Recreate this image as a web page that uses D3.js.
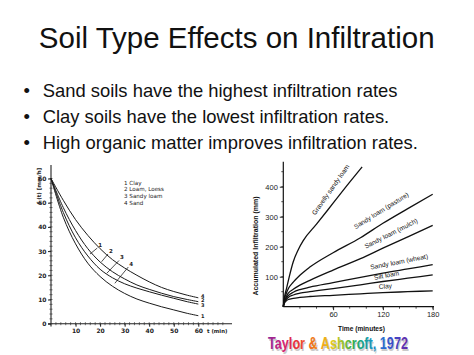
<!DOCTYPE html>
<html><head><meta charset="utf-8">
<script src="https://cdn.jsdelivr.net/npm/d3@7"></script>
<style>html,body{margin:0;padding:0;background:#fff;}svg{display:block;}</style>
</head><body>
<svg id="c" width="474" height="355"></svg>
<script>
// ---- Slide text ----
const titleText = "Soil Type Effects on Infiltration";
const bullets = [
  "Sand soils have the highest infiltration rates",
  "Clay soils have the lowest infiltration rates.",
  "High organic matter improves infiltration rates."
];
const citation = "Taylor & Ashcroft, 1972";

// ---- Left chart: infiltration rate f(t) [mm/h] vs t (min) ----
const rateTime = [0,5,10,15,20,25,30,35,40,45,50,55,60];
const rateClay      = [60,44,33,25,19.5,15.5,12.5,10.2,8.5,7,5.7,4.4,3.3];
const rateLoam      = [60,48,38.5,31,25.5,21.5,18.5,16,14.2,12.6,11.2,10.1,9.1];
const rateSandyLoam = [60,46,35.5,28,22.5,19,16.5,14.7,13.2,11.8,10.5,9.2,8.1];
const rateSand      = [60,51,43,36.5,31,26.5,23,20,17.3,15,13.3,11.9,10.7];
const rateLegend = ["1 Clay","2 Loam, Loess","3 Sandy loam","4 Sand"];
const rateXTicks = [10,20,30,40,50,60];
const rateYTicks = [0,10,20,30,40,50,60];

// ---- Right chart: accumulated infiltration (mm) vs time (minutes) ----
const gravelTime = [0,1,2,4,7,12,18,24,40,60,80,95];
const gravellySandyLoam = [0,25,40,62,98,150,190,220,275,345,415,466];
const accTime = [0,1,3,6,12,20,32,60,93,120,150,180];
const sandyLoamPasture = [0,20,40,60,82,105,132,180,230,278,327,375];
const sandyLoamMulch   = [0,15,30,45,58,72,88,122,160,195,233,271];
const sandyLoamWheat   = [0,14,26,37,48,57,65,80,98,112,126,140];
const siltLoam         = [0,12,22,31,39,45,50,60,73,84,95,106];
const clayAcc          = [0,10,18,24,28,31,34,38,43,47,50,53];
const accXTicks = [60,120,180];
const accYTicks = [100,200,300,400];

const svg = d3.select("#c");
const FONT = "'Liberation Sans', Arial, sans-serif";

// Title
svg.append("text").attr("x",236.7).attr("y",48).attr("text-anchor","middle")
  .attr("font-family",FONT).attr("font-size",29.5).attr("fill","#111").text(titleText);
// Bullets
bullets.forEach((b,i)=>{
  const y = 96.5 + i*26;
  svg.append("text").attr("x",23.5).attr("y",y).attr("font-family",FONT)
    .attr("font-size",18.4).attr("fill","#111").text("•");
  svg.append("text").attr("x",42.7).attr("y",y).attr("font-family",FONT)
    .attr("font-size",18.4).attr("fill","#111").text(b);
});

// ===== Left chart =====
const xL = d3.scaleLinear().domain([0,60]).range([51,198.3]);
const yL = d3.scaleLinear().domain([0,60]).range([323.7,178.5]);
const gL = svg.append("g").attr("font-family","'DejaVu Sans', sans-serif").attr("fill","#222");
gL.append("line").attr("x1",xL(0)).attr("x2",xL(0)).attr("y1",165).attr("y2",326.5).attr("stroke","#222").attr("stroke-width",1.1);
gL.append("line").attr("x1",48).attr("x2",232).attr("y1",yL(0)).attr("y2",yL(0)).attr("stroke","#222").attr("stroke-width",1.1);
d3.range(0,61,2).forEach(v=>{
  gL.append("line").attr("x1",xL(0)-1.5).attr("x2",xL(0)+1.5).attr("y1",yL(v)).attr("y2",yL(v)).attr("stroke","#333").attr("stroke-width",0.7);
});
d3.range(2,71,2).forEach(v=>{
  gL.append("line").attr("x1",xL(v)).attr("x2",xL(v)).attr("y1",yL(0)-1.5).attr("y2",yL(0)+1.5).attr("stroke","#333").attr("stroke-width",0.7);
});
const yAxisL = d3.axisLeft(yL).tickValues(rateYTicks).tickSize(3).tickPadding(1.5);
const yAxG = gL.append("g").attr("transform",`translate(${xL(0)},0)`).call(yAxisL);
yAxG.select(".domain").remove();
yAxG.selectAll("text").attr("font-size",6).attr("font-weight","bold").attr("fill","#222").attr("font-family","'DejaVu Sans', sans-serif");
yAxG.selectAll("line").attr("stroke","#222");
const xAxisL = d3.axisBottom(xL).tickValues(rateXTicks).tickSize(3).tickPadding(2);
const xAxG = gL.append("g").attr("transform",`translate(0,${yL(0)})`).call(xAxisL);
xAxG.select(".domain").remove();
xAxG.selectAll("text").attr("font-size",6).attr("font-weight","bold").attr("fill","#222").attr("font-family","'DejaVu Sans', sans-serif");
xAxG.selectAll("line").attr("stroke","#222");
gL.append("text").attr("x",207).attr("y",333).attr("font-size",5.3).attr("font-weight","bold").text("t (min)");
gL.append("text").attr("transform","translate(41,186) rotate(-90)").attr("text-anchor","middle")
  .attr("font-size",5.5).attr("font-weight","bold").text("f (t)  [mm/h]");
const rateSeries = [rateClay, rateLoam, rateSandyLoam, rateSand];
const lineL = d3.line().x((d,i)=>xL(rateTime[i])).y(d=>yL(d)).curve(d3.curveCatmullRom);
rateSeries.forEach(s=>{
  gL.append("path").attr("d",lineL(s)).attr("fill","none").attr("stroke","#1a1a1a").attr("stroke-width",1);
});
rateLegend.forEach((t,i)=>{
  gL.append("text").attr("x",124).attr("y",184.5+i*6.8).attr("font-size",5.6).text(t);
});
const endLabels = ["4","2","3","1"];
const endY = [297.5,302.3,307,318];
endLabels.forEach((e,i)=>{
  gL.append("text").attr("x",201).attr("y",endY[i]).attr("font-size",5).attr("font-weight","bold").text(e);
});
const leaderLabels = ["1","2","3","4"];
const leaderPos = [[98.3,246.5],[109,252.5],[120,259],[129.3,265.5]];
const leaderEnds = [[15.9,28.8],[20.6,25.6],[22.7,20.8],[26,16.7]];
leaderLabels.forEach((lab,i)=>{
  const [lx,ly] = leaderPos[i];
  gL.append("text").attr("x",lx).attr("y",ly).attr("font-size",5.5).attr("font-weight","bold").text(lab);
  gL.append("line").attr("x1",lx-1).attr("y1",ly+1.5)
    .attr("x2",xL(leaderEnds[i][0])).attr("y2",yL(leaderEnds[i][1]))
    .attr("stroke","#222").attr("stroke-width",0.8);
});

// ===== Right chart =====
const xR = d3.scaleLinear().domain([0,180]).range([283.3,432.7]);
const yR = d3.scaleLinear().domain([0,400]).range([306.7,186.7]);
const gR = svg.append("g").attr("font-family",FONT).attr("fill","#111");
gR.append("line").attr("x1",xR(0)).attr("x2",xR(0)).attr("y1",161.7).attr("y2",yR(0)).attr("stroke","#111").attr("stroke-width",1.2);
gR.append("line").attr("x1",xR(0)).attr("x2",434).attr("y1",yR(0)).attr("y2",yR(0)).attr("stroke","#111").attr("stroke-width",1.2);
d3.range(50,451,50).forEach(v=>{
  gR.append("line").attr("x1",xR(0)-2).attr("x2",xR(0)).attr("y1",yR(v)).attr("y2",yR(v)).attr("stroke","#222").attr("stroke-width",0.8);
});
d3.range(20,181,20).forEach(v=>{
  gR.append("line").attr("x1",xR(v)).attr("x2",xR(v)).attr("y1",yR(0)).attr("y2",yR(0)+2).attr("stroke","#222").attr("stroke-width",0.8);
});
const yAxR = gR.append("g").attr("transform",`translate(${xR(0)},0)`)
  .call(d3.axisLeft(yR).tickValues(accYTicks).tickSize(3.5).tickPadding(2));
yAxR.select(".domain").remove();
yAxR.selectAll("text").attr("font-size",7.5).attr("fill","#222").attr("font-family",FONT);
yAxR.selectAll("line").attr("stroke","#222");
const xAxR = gR.append("g").attr("transform",`translate(0,${yR(0)})`)
  .call(d3.axisBottom(xR).tickValues(accXTicks).tickSize(3.5).tickPadding(1.5));
xAxR.select(".domain").remove();
xAxR.selectAll("text").attr("font-size",7.5).attr("fill","#222").attr("font-family",FONT);
xAxR.selectAll("line").attr("stroke","#222");
gR.append("text").attr("x",361.5).attr("y",330.5).attr("text-anchor","middle")
  .attr("font-size",6.6).attr("font-weight","bold").text("Time (minutes)");
gR.append("text").attr("transform","translate(257.5,246) rotate(-90)").attr("text-anchor","middle")
  .attr("font-size",7).attr("font-weight","bold").text("Accumulated Infiltration (mm)");

const accSeries = [
  {t:gravelTime, v:gravellySandyLoam, name:"Gravelly sandy loam", cx:332.5, cy:191, a:-55},
  {t:accTime, v:sandyLoamPasture, name:"Sandy loam (pasture)", cx:382.5, cy:212.5, a:-32},
  {t:accTime, v:sandyLoamMulch, name:"Sandy loam (mulch)", cx:392, cy:235.5, a:-27},
  {t:accTime, v:sandyLoamWheat, name:"Sandy loam (wheat)", cx:399.5, cy:264, a:-11},
  {t:accTime, v:siltLoam, name:"Silt loam", cx:387, cy:277.5, a:-11},
  {t:accTime, v:clayAcc, name:"Clay", cx:385.5, cy:288.5, a:-5}
];
accSeries.forEach(s=>{
  const ln = d3.line().x((d,i)=>xR(s.t[i])).y(d=>yR(d)).curve(d3.curveMonotoneX);
  gR.append("path").attr("d",ln(s.v)).attr("fill","none").attr("stroke","#111").attr("stroke-width",1.3);
  gR.append("text").attr("transform",`translate(${s.cx},${s.cy}) rotate(${s.a})`)
    .attr("text-anchor","middle").attr("font-size",6.6).attr("fill","#111").text(s.name);
});

// Citation with rainbow gradient and grey shadow
const defs = svg.append("defs");
const grad = defs.append("linearGradient").attr("id","rb").attr("gradientUnits","userSpaceOnUse")
  .attr("x1",268).attr("x2",408).attr("y1",0).attr("y2",0);
const stops = [[0,"#8a2a98"],[0.1,"#d0207a"],[0.2,"#e8303a"],[0.3,"#ee6a22"],[0.38,"#f2a21c"],[0.46,"#e2c81e"],
  [0.53,"#9cc22a"],[0.6,"#3aae4a"],[0.67,"#18a488"],[0.74,"#1c96c0"],[0.82,"#2a6ed2"],[0.9,"#3d48c8"],[1,"#6a2aa8"]];
stops.forEach(s=>grad.append("stop").attr("offset",s[0]).attr("stop-color",s[1]));
const citeFont = "'Liberation Sans Narrow','Arial Narrow',"+FONT;
svg.append("text").attr("x",269).attr("y",350.5).attr("font-family",citeFont)
  .attr("font-weight","bold").attr("font-size",17).attr("textLength",140).attr("lengthAdjust","spacingAndGlyphs")
  .attr("fill","#bdbdbd").attr("opacity",0.8).text(citation);
svg.append("text").attr("x",268).attr("y",349).attr("font-family",citeFont)
  .attr("font-weight","bold").attr("font-size",17).attr("textLength",140).attr("lengthAdjust","spacingAndGlyphs")
  .attr("fill","url(#rb)").text(citation);
</script>
</body></html>
